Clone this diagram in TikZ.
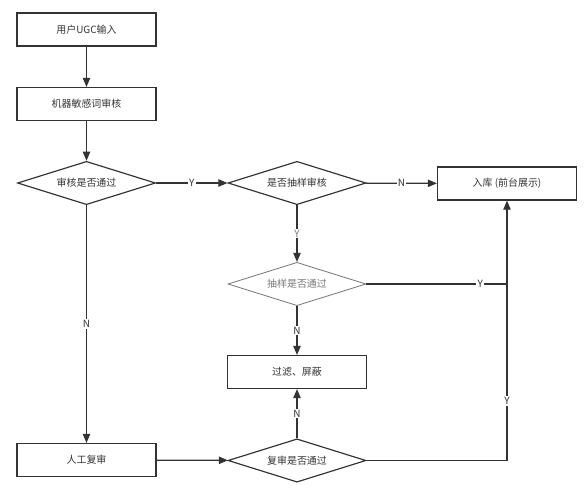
\documentclass[tikz,border=0pt]{standalone}
\usepackage{fontspec}
\setmainfont{Noto Sans CJK SC}
\usetikzlibrary{shapes.geometric}
\usetikzlibrary{arrows.meta}
\definecolor{linie}{RGB}{51,51,51}
\definecolor{blass}{RGB}{120,120,120}

\begin{document}
\begin{tikzpicture}[x=0.03cm, y=-0.03cm, linie, line width=1pt,
    font=\fontsize{8.5}{10}\selectfont,
    schritt/.style={draw, rectangle, minimum width=4.17cm, minimum height=0.99cm, inner sep=0pt},
    frage/.style={draw, diamond, aspect=3.2, minimum width=4.14cm, minimum height=1.3cm, inner sep=0pt},
    pfeil/.style={-{Triangle[length=0.27cm, width=0.22cm]}},
    marke/.style={fill=white, inner sep=1pt, font=\fontsize{8.5}{10}\selectfont}]

    \useasboundingbox (0,0) rectangle (588,500);

    % Knoten
    \node[schritt] (eingabe) at (86.5,29.5) {用户UGC输入};
    \node[schritt] (maschine) at (86.5,104) {机器敏感词审核};
    \node[frage] (pruefung) at (86.5,183) {审核是否通过};
    \node[frage] (stichprobe) at (297,183) {是否抽样审核};
    \node[schritt] (speicher) at (507,183.5) {入库 (前台展示)};
    \node[frage, draw=blass, text=blass, line width=0.7pt] (stichok) at (297,284) {抽样是否通过};
    \node[schritt] (filter) at (297,372) {过滤、屏蔽};
    \node[schritt] (manuell) at (86.5,460) {人工复审};
    \node[frage] (nachpruef) at (297,460.5) {复审是否通过};

    \coordinate (knick) at (speicher.south |- stichok.east);

    % Verbindungen
    \draw[pfeil] (eingabe) -- (maschine);
    \draw[pfeil] (maschine) -- (pruefung);
    \draw[pfeil] (pruefung) -- node[marke] {Y} (stichprobe);
    \draw[pfeil] (stichprobe) -- node[marke] {N} (speicher);
    \draw[pfeil] (stichprobe) -- node[marke, text=blass] {Y} (stichok);
    \draw[pfeil] (stichok) -- node[marke] {N} (filter);
    \draw[pfeil] (pruefung) -- node[marke] {N} (manuell);
    \draw[pfeil] (manuell) -- (nachpruef);
    \draw[pfeil] (nachpruef) -- node[marke] {N} (filter);
    \draw[pfeil] (nachpruef.east) -| node[marke, pos=0.615] {Y} (speicher.south);
    \draw (stichok.east) -- node[marke, pos=0.81] {Y} (knick);

\end{tikzpicture}
\end{document}
